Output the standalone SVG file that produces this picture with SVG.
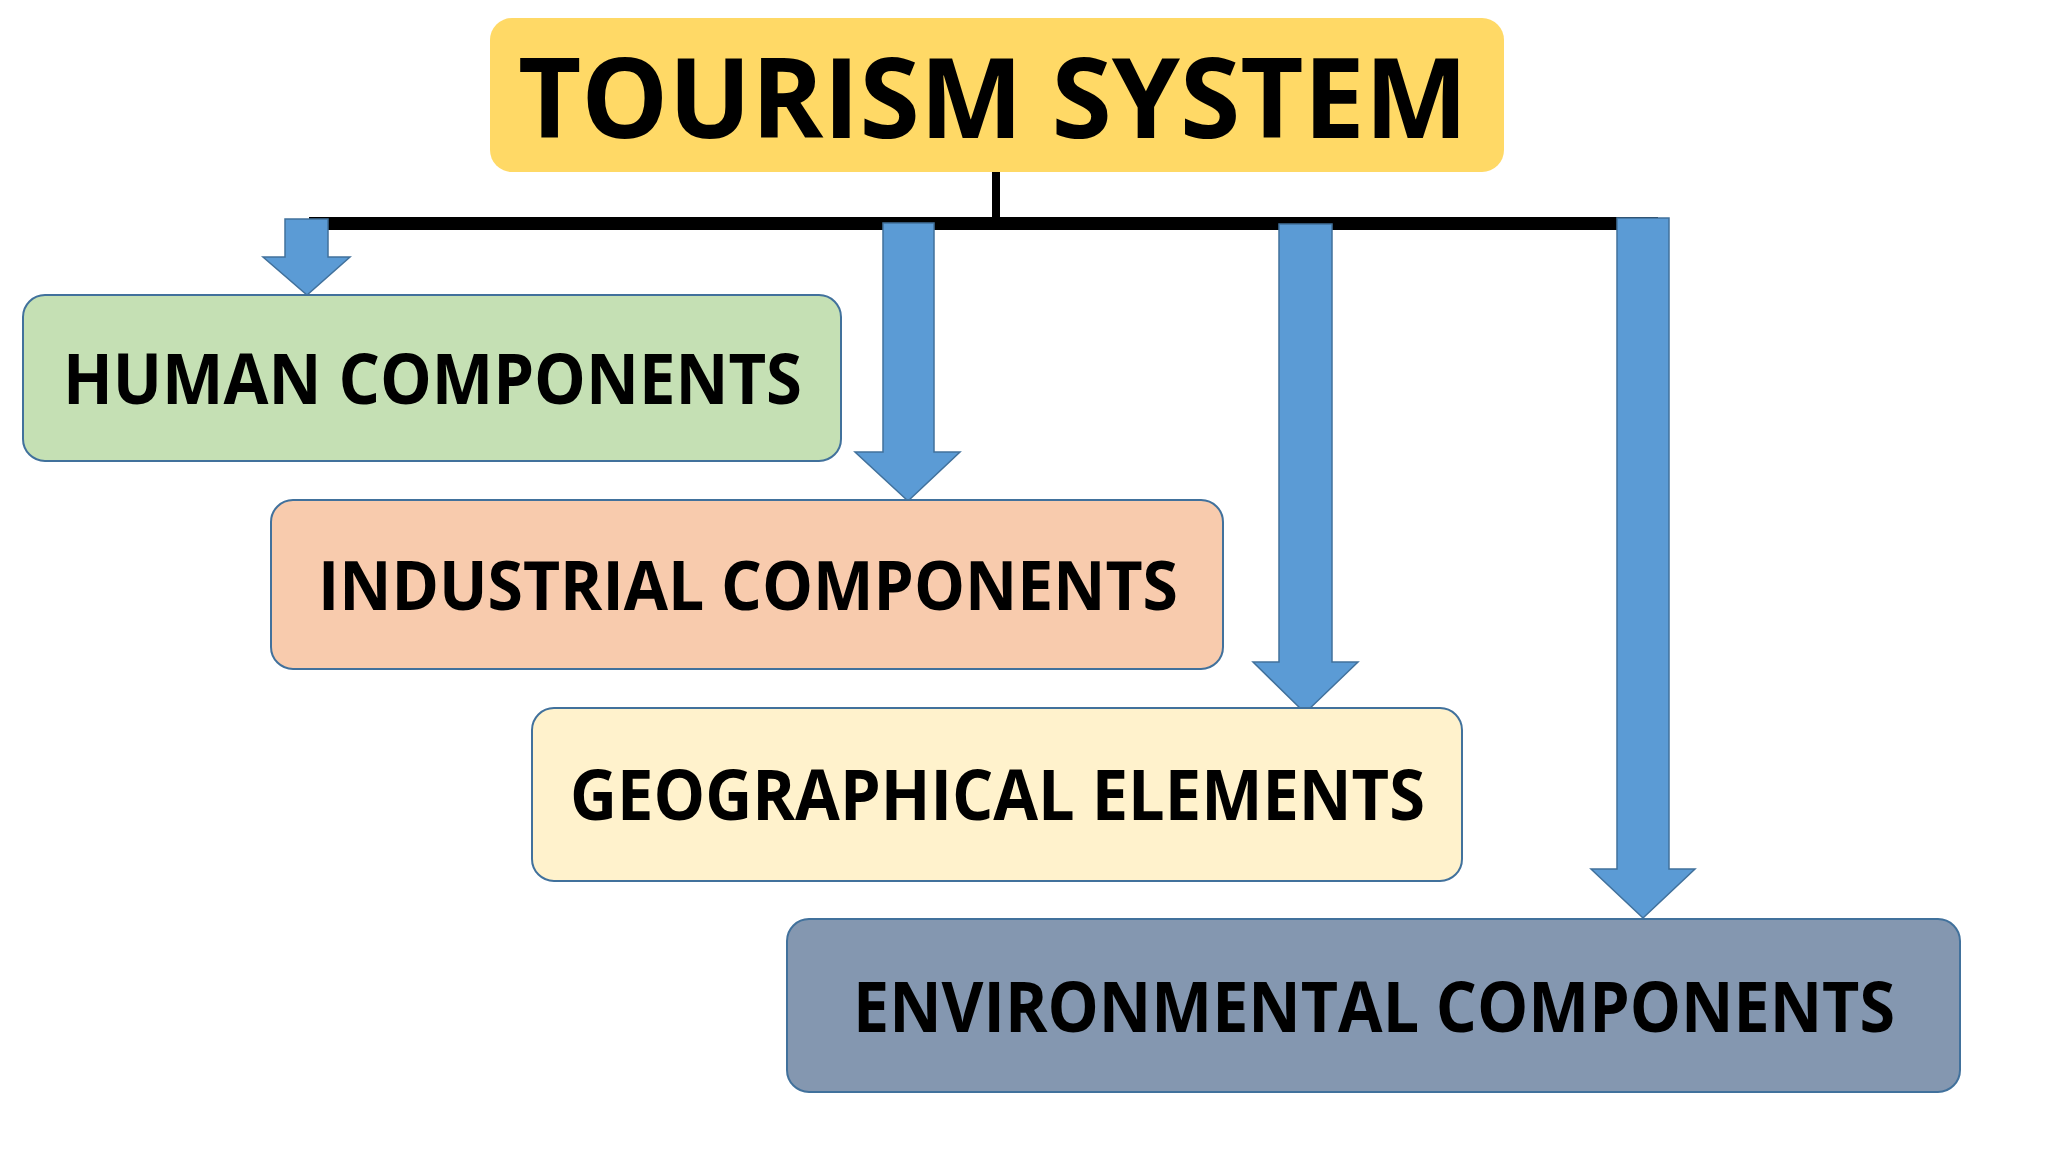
<svg xmlns="http://www.w3.org/2000/svg" width="2048" height="1152" viewBox="0 0 2048 1152">
<style>
.box{stroke:#41719C;stroke-width:2}
.lbl{font-family:"Open Sans","Noto Sans","Liberation Sans",sans-serif;font-weight:bold;fill:#000;text-anchor:start}
.arrow{fill:#5B9BD5;stroke:#41719C;stroke-width:1.5;stroke-linejoin:miter}
</style>
<rect width="2048" height="1152" fill="#FFFFFF"/>
<g id="connectors">
<rect x="992" y="171" width="8" height="48" fill="#000"/>
<rect x="309" y="217" width="1349" height="13" fill="#000"/>
<polygon class="arrow" points="285,219 328,219 328,257 350,257 307,295 263,257 285,257"/>
<polygon class="arrow" points="883,223 934,223 934,452 960,452 908,501 855,452 883,452"/>
<polygon class="arrow" points="1279,224 1332,224 1332,662 1358,662 1305,713 1253,662 1279,662"/>
<polygon class="arrow" points="1617,218 1669,218 1669,869 1695,869 1643,918 1591,869 1617,869"/>
</g>
<g id="tourism-system">
<rect x="490" y="18" width="1014" height="154" rx="22" fill="#FFD966"/>
<text class="lbl" x="518" y="138" font-size="112" textLength="950" lengthAdjust="spacingAndGlyphs">TOURISM SYSTEM</text>
</g>
<g id="human-components">
<rect class="box" x="23" y="295" width="818" height="166" rx="22" fill="#C5E0B4"/>
<text class="lbl" x="63" y="404" font-size="69" textLength="739" lengthAdjust="spacingAndGlyphs">HUMAN COMPONENTS</text>
</g>
<g id="industrial-components">
<rect class="box" x="271" y="500" width="952" height="169" rx="22" fill="#F8CBAD"/>
<text class="lbl" x="318" y="610" font-size="68" textLength="860" lengthAdjust="spacingAndGlyphs">INDUSTRIAL COMPONENTS</text>
</g>
<g id="geographical-elements">
<rect class="box" x="532" y="708" width="930" height="173" rx="22" fill="#FFF2CC"/>
<text class="lbl" x="570" y="820" font-size="69" textLength="855" lengthAdjust="spacingAndGlyphs">GEOGRAPHICAL ELEMENTS</text>
</g>
<g id="environmental-components">
<rect class="box" x="787" y="919" width="1173" height="173" rx="22" fill="#8497B0"/>
<text class="lbl" x="853" y="1032" font-size="70" textLength="1042" lengthAdjust="spacingAndGlyphs">ENVIRONMENTAL COMPONENTS</text>
</g>
</svg>
